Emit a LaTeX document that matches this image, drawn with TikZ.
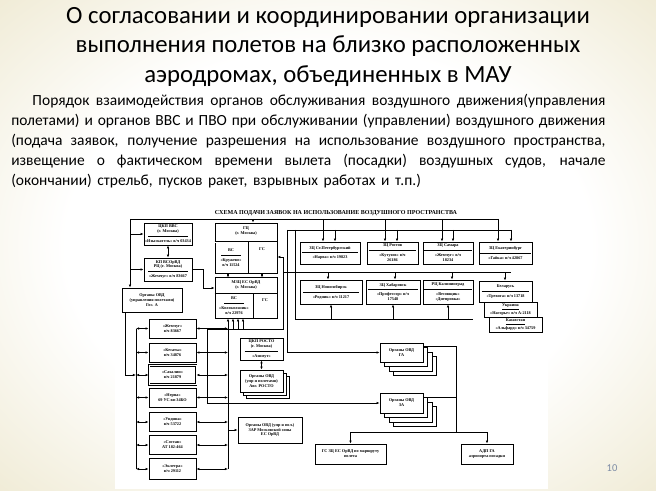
\documentclass[tikz,border=0pt]{standalone}
\usepackage{fontspec}
\setmainfont{Carlito}
\newfontfamily\introfont{Carlito}[WordSpace={1.6,1,2}]
\newfontfamily\schemefont{Liberation Serif}
\usetikzlibrary{arrows.meta,calc}

\definecolor{slidecream}{RGB}{236,230,203}
\definecolor{slidetan}{RGB}{204,196,156}
\definecolor{pagenum}{RGB}{125,140,165}
\pgfdeclareradialshading{slideglow}{\pgfpoint{0bp}{0bp}}{%
  color(0bp)=(white); color(20bp)=(white); color(40bp)=(slidecream); color(70bp)=(slidetan)}
\newcommand{\seprule}[1]{\rule[0.8pt]{#1}{0.35pt}}

\begin{document}
\begin{tikzpicture}[
    x=0.025cm, y=-0.025cm,               % one unit = one pixel of the slide
    >={Latex[length=2.2pt,width=1.8pt]},
    box/.style={
        draw,
        fill=white,
        line width=0.5pt,
        align=center,
        inner sep=0.5pt,
        font=\schemefont\bfseries\fontsize{3}{3.5}\selectfont
    },
    sz/.style 2 args={minimum width=#1*0.025cm, minimum height=#2*0.025cm},
    txt/.style={align=center, inner sep=0pt, font=\schemefont\bfseries\fontsize{3}{3.5}\selectfont},
    link/.style={line width=0.45pt}
]

% slide background
\shade[shading=slideglow] (0,0) rectangle (656,491);
\useasboundingbox (0,0) rectangle (656,491);

% heading and text
\node[align=center, font=\fontsize{17.6}{21.3}\selectfont] (title) at (328,47)
    {О согласовании и координировании организации\\выполнения полетов на близко расположенных\\аэродромах, объединенных в МАУ};
\node[anchor=north west, text width=14.85cm, align=justify, inner sep=0pt,
      font=\introfont\fontsize{11}{14.2}\selectfont] (intro) at (11,94)
    {\emergencystretch=2em\hspace*{0.53cm}Порядок взаимодействия органов обслуживания воздушного движения(управления\linebreak
     полетами) и органов ВВС и ПВО при обслуживании (управлении) воздушного движения\linebreak
     (подача заявок, получение разрешения на использование воздушного пространства,\linebreak
     извещение о фактическом времени вылета (посадки) воздушных судов, начале\linebreak
     (окончании) стрельб, пусков ракет, взрывных работах и т.п.)};

% scheme sheet
\fill[white] (115,193) rectangle (548,489);
\node[txt, font=\schemefont\bfseries\fontsize{4.3}{5}\selectfont] (head) at (336,213)
    {СХЕМА ПОДАЧИ ЗАЯВОК НА ИСПОЛЬЗОВАНИЕ ВОЗДУШНОГО ПРОСТРАНСТВА};

% Moscow centres
\node[box, sz={48}{22}] (ckp) at (168,234) {ЦКП ВВС\\(г. Москва)\\\seprule{28pt}\\«Изыскатель» в/ч 03434};
\node[box, sz={48}{23}] (kp) at (168,269.5) {КП ВСОрВД\\РЦ (г. Москва)\\\seprule{28pt}\\«Жемчуг» в/ч 83667};
\node[box, sz={62}{50}] (gc) at (246,248) {};
\node[txt] (gcname) at (246,231) {ГЦ\\(г. Москва)};
\draw[double, double distance=0.7pt, line width=0.35pt] (gc.west |- 0,242) -- (gc.east |- 0,242);
\draw[link] (248,242) -- (248,0 |- gc.south);
\node[txt] (gcvs) at (231,258) {ВС\\\seprule{14pt}\\«Кружево»\\в/ч 11524};
\node[txt] (gcgs) at (262,249) {ГС};
\node[box, sz={62}{41}] (mzc) at (246,297.5) {};
\node[txt] (mzcname) at (246,285) {МЗЦ ЕС ОрВД\\(г. Москва)};
\draw[link] (mzc.west |- 0,293) -- (mzc.east |- 0,293);
\draw[link] (253,293) -- (253,0 |- mzc.south);
\node[txt] (mzcvs) at (234,306) {ВС\\\seprule{14pt}\\«Колокольчик»\\в/ч 22976};
\node[txt] (mzcgs) at (265,300) {ГС};
\node[box, sz={60}{24}] (gosa) at (152,300) {Органы ОВД\\(управления полетами)\\Гос. А};

% units of the left column
\node[box, sz={47}{19}] (b1) at (172.5,328.5) {«Жемчуг»\\в/ч 83667};
\node[box, sz={47}{19}] (b2) at (172.5,352.5) {«Кесаты»\\в/ч 34876};
\node[box, sz={47}{19}, double, double distance=0.7pt] (b3) at (172.5,375) {«Сахалин»\\в/ч 21879};
\node[box, sz={47}{19}] (b4) at (172.5,397.5) {«Нерпа»\\69 УС вп 34БО};
\node[box, sz={47}{19}] (b5) at (172.5,422) {«Ундина»\\в/ч 53722};
\node[box, sz={47}{19}] (b6) at (172.5,445) {«Состав»\\АТ 182-464};
\node[box, sz={47}{21}] (b7) at (172.5,469) {«Эклетра»\\в/ч 29112};

% ROSTO and zone
\node[box, sz={43}{22}] (rosto) at (261.5,349) {ЦКП РОСТО\\(г. Москва)\\\seprule{24pt}\\«Азимут»};
\foreach \k in {2,1}
    \node[box, sz={43}{22}] (ovdrosto-\k) at (261.5+3*\k,381+3*\k) {};
\node[box, sz={43}{22}] (ovdrosto) at (261.5,381) {Органы ОВД\\(упр-я полетами)\\Авг. РОСТО};
\node[box, sz={64}{26}] (zar) at (270,430) {Органы ОВД (упр-я пол.)\\ЗАР Московской зоны\\ЕС ОрВД};

% zonal centres
\node[box, sz={60}{22}] (zc1) at (330,253) {ЗЦ Ст.Петербургский\\\seprule{40pt}\\«Нарва» в/ч 19823};
\node[box, sz={51}{22}] (zc2) at (392.5,253) {ЗЦ Ростов\\\seprule{34pt}\\«Кутузов» в/ч\\26186};
\node[box, sz={50}{22}] (zc3) at (448,253) {ЗЦ Самара\\\seprule{34pt}\\«Жемчуг» в/ч\\18234};
\node[box, sz={53}{22}] (zc4) at (505.5,253) {ЗЦ Екатеринбург\\\seprule{36pt}\\«Гайка» в/ч 42867};
\node[box, sz={62}{24}] (zc5) at (331,292) {ЗЦ Новосибирск\\\seprule{40pt}\\«Родник» в/ч 11217};
\node[box, sz={54}{24}] (zc6) at (393,292) {ЗЦ Хабаровск\\\seprule{36pt}\\«Профессор» в/ч\\17548};
\node[box, sz={50}{24}] (rc7) at (448,292) {РЦ Калининград\\\seprule{34pt}\\«Весовщик»\\«Днепровка»};
\node[box, sz={53}{15}] (kaz) at (515.5,324.5) {\underline{Казахстан}\\«Альфард» в/ч 34759};
\node[box, sz={53}{15}] (ukr) at (510.5,309.5) {\underline{Украина}\\«Нагорье» в/ч А-2118};
\node[box, sz={53}{21}] (blr) at (505.5,291.5) {Беларусь\\\seprule{34pt}\\«Тревога» в/ч 13718};

% civil ATS units
\foreach \k in {3,2,1}
    \node[box, sz={43}{19}] (ovdga-\k) at (401.5+4.5*\k,352.5+4.5*\k) {};
\node[box, sz={43}{19}] (ovdga) at (401.5,352.5) {Органы ОВД\\ГА};
\foreach \k in {3,2,1}
    \node[box, sz={43}{20}] (ovdza-\k) at (401.5+4.5*\k,403+4.5*\k) {};
\node[box, sz={43}{20}] (ovdza) at (401.5,403) {Органы ОВД\\ЗА};
\node[box, sz={71}{20}] (gszc) at (350.5,454) {ГС ЗЦ ЕС ОрВД по маршруту\\полета};
\node[box, sz={52}{20}] (adp) at (487,454) {АДП ГА\\аэропорта посадки};

% top lines
\coordinate (tl) at (130,219);
\coordinate (tr) at (498,219);
\draw[link] (tl) -- (tr);
\draw[link,->] (tl) -- (tl |- gosa.north);
\draw[link,->] (tl |- ckp.west) -- (ckp.west);
\draw[link,->] (tl |- kp.west) -- (kp.west);
\draw[link,->] (253,219) -- (253,0 |- gc.north);
\foreach \x/\n in {323/zc1, 385/zc2, 442/zc3, 498/zc4}
    \draw[link,->] (\x,219) -- (\x,0 |- \n.north);
\coordinate (ml) at (287,230);
\coordinate (mr) at (511,230);
\draw[link] (ml) -- (mr);
\foreach \x/\n in {335/zc1, 397/zc2, 453/zc3, 511/zc4}
    \draw[link,->] (\x,230) -- (\x,0 |- \n.north);
\draw[link,->] (ml) |- (ovdga.west);

% second row of centres
\draw[link] (283,272) -- (511,272);
\foreach \x/\n in {328/zc5, 395/zc6, 452/rc7, 505/blr}
    \draw[link,->] (\x,272) -- (\x,0 |- \n.north);
\draw[link] (295,230) -- (295,319) -- (473,319);
\foreach \x/\n in {331/zc5, 393/zc6, 448/rc7}
    \draw[link,->] (\x,319) -- (\x,0 |- \n.south);
\draw[link,<->] (gc.east |- 0,257) -- (283,257) -- (283,329) -- (207,329) -- (207,0 |- ovdza.west) -- (ovdza.west);
\foreach \x in {233,238,243}
    \draw[link,->] (\x,329) -- (\x,0 |- mzc.south);

% Moscow links
\draw[link,<->] (ckp) -- (kp);
\foreach \x in {228,262}
    \draw[link,<->] (\x,0 |- gc.south) -- (\x,0 |- mzc.north);
\draw[link,->] (kp.east) -- ++(11,0) |- (mzc.west |- 0,288);

% left column buses
\draw[link] (136,0 |- b1.west) -- (136,0 |- b7.west);
\draw[link,->] (228,0 |- b7.east) -- (228,0 |- mzc.south);
\foreach \n in {b1,b2,b3,b4,b5,b6,b7} {
    \draw[link,<->] (136,0 |- \n.west) -- (\n.west);
    \draw[link,<->] (\n.east) -- (228,0 |- \n.east);
}
\draw[link,->] (125,0 |- gosa.south) |- (136,0 |- b3.west);
\draw[link,->] (228,0 |- zar.west) -- (zar.west);
\draw[link,<->] (rosto) -- (ovdrosto);

% to the aerodromes
\draw[link] (ovdga.east |- 0,346) -- (456,346) -- (456,432);
\draw[link] (ovdza.east |- 0,397) -- (456,397);
\draw[link,->] (456,432) -| (gszc);
\draw[link,->] (456,432) -| (adp);

% page number
\node[font=\fontsize{7.5}{9}\selectfont, text=pagenum] (pnum) at (612,468) {10};

\end{tikzpicture}
\end{document}
